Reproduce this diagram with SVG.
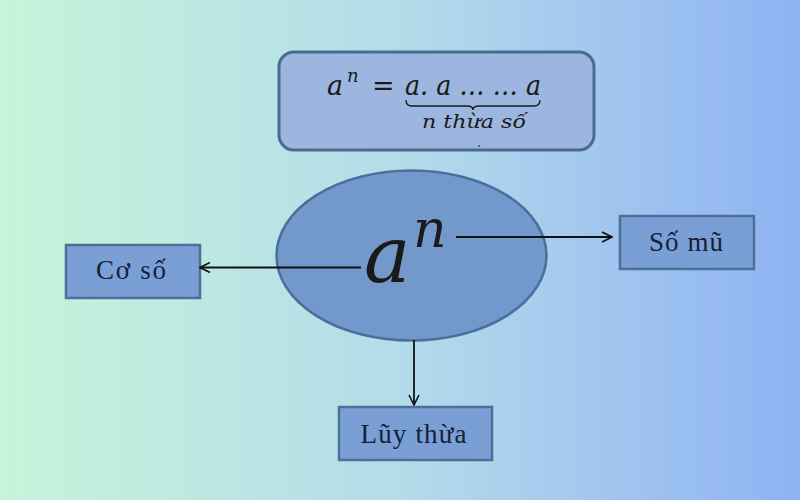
<svg xmlns="http://www.w3.org/2000/svg" width="800" height="500" viewBox="0 0 800 500">
<defs>
<linearGradient id="bg" x1="0" y1="0" x2="1" y2="0">
<stop offset="0" stop-color="#c6f4da"/>
<stop offset="0.5" stop-color="#b3dcea"/>
<stop offset="1" stop-color="#8fb2f3"/>
</linearGradient>
<marker id="arr" viewBox="0 0 12 12" refX="11" refY="6" markerWidth="12" markerHeight="12" markerUnits="userSpaceOnUse" orient="auto">
<path d="M1,1 L11,6 L1,11" fill="none" stroke="#111" stroke-width="1.6"/>
</marker>
<style>
.box{fill:#7a9fd5;stroke:#4f6f98;stroke-width:2.5}
.lbl{font-family:"Liberation Serif",serif;font-size:27px;fill:#14213a;text-anchor:middle}
.math{font-family:"DejaVu Serif","Liberation Serif",serif;font-style:italic;fill:#1a1a1a}
.con{stroke:#111;stroke-width:1.8;fill:none}
</style>
</defs>
<rect width="800" height="500" fill="url(#bg)"/>
<g id="formula">
<rect x="279" y="52" width="315" height="98" rx="15" fill="#9db6df" stroke="#4c6a8e" stroke-width="3"/>
<text class="math" x="327" y="95" font-size="27">a</text>
<text class="math" x="347" y="82" font-size="18">n</text>
<text class="math" x="372" y="95" font-size="27" font-style="normal">=</text>
<text class="math" x="405" y="95" font-size="27" textLength="136" lengthAdjust="spacingAndGlyphs">a. a … … a</text>
<path d="M406,100 q0,6 6,6 h55 q6,0 6,4 q0,-4 6,-4 h55 q6,0 6,-6" fill="none" stroke="#1a1a1a" stroke-width="1.3"/>
<text class="math" x="422" y="128" font-size="19" textLength="104" lengthAdjust="spacingAndGlyphs">n thừa số</text>
<circle cx="479" cy="146" r="1" fill="#2a4cc0"/>
</g>
<g id="center">
<ellipse cx="411.5" cy="255.5" rx="135" ry="85" fill="#7399cc" stroke="#4c6e9c" stroke-width="2.5"/>
<text class="math" x="364" y="282" font-size="78">a</text>
<text class="math" x="413" y="247" font-size="52">n</text>
</g>
<g id="coso">
<rect class="box" x="66" y="245" width="134" height="53"/>
<text class="lbl" x="131" y="279" textLength="70" lengthAdjust="spacing">Cơ số</text>
</g>
<g id="somu">
<rect class="box" x="620" y="216" width="134" height="53"/>
<text class="lbl" x="686" y="251" textLength="74" lengthAdjust="spacing">Số mũ</text>
</g>
<g id="luythua">
<rect class="box" x="339" y="407" width="153" height="53"/>
<text class="lbl" x="413.5" y="443" textLength="106" lengthAdjust="spacing">Lũy thừa</text>
</g>
<g id="connectors">
<line class="con" x1="361" y1="267.5" x2="200" y2="267.5" marker-end="url(#arr)"/>
<line class="con" x1="456" y1="237" x2="612" y2="237" marker-end="url(#arr)"/>
<line class="con" x1="414" y1="340" x2="414" y2="405" marker-end="url(#arr)"/>
</g>
</svg>
